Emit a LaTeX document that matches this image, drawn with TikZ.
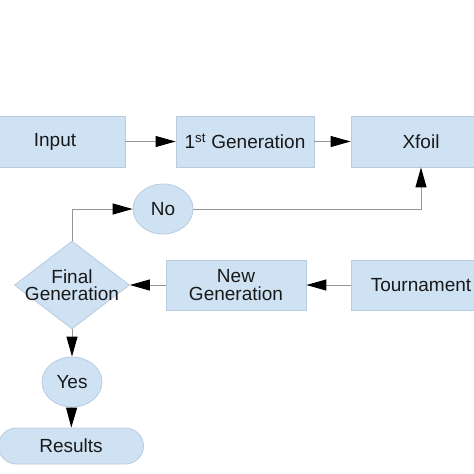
\documentclass[tikz,border=0pt]{standalone}
\usepackage{fontspec}
\setmainfont{Liberation Sans}
\usetikzlibrary{shapes.geometric,shapes.misc,arrows.meta}
\definecolor{boxfill}{RGB}{207,226,243}
\definecolor{boxline}{RGB}{185,203,222}
\definecolor{wire}{RGB}{150,150,150}
\definecolor{ink}{RGB}{25,25,25}
\tikzset{
  txt/.style={font=\fontsize{19}{17.5}\selectfont, text=ink, align=center},
  block/.style={txt, draw=boxline, fill=boxfill, line width=0.8pt,
    minimum width=140pt, minimum height=51pt, inner sep=0pt},
  bubble/.style={txt, ellipse, draw=boxline, fill=boxfill, line width=0.8pt,
    minimum width=60pt, minimum height=50pt, inner sep=0pt},
  decide/.style={diamond, draw=boxline, fill=boxfill, line width=0.8pt,
    minimum width=115pt, minimum height=88pt, aspect=1.3, inner sep=0pt},
  capsule/.style={txt, rounded rectangle, draw=boxline, fill=boxfill, line width=0.8pt,
    minimum width=145pt, minimum height=36pt, inner sep=0pt},
  flow/.style={draw=wire, line width=1pt, -{Triangle[length=20pt,width=11pt,color=black]}},
}
\begin{document}
\begin{tikzpicture}[x=1pt,y=-1pt]
  \useasboundingbox (0,0) rectangle (474,474);
  \clip (0,0) rectangle (474,474);

  % Top row
  \node [block] (input) at (55,141.5) {Input};
  \node [block, minimum width=138pt] (first) at (245,141.5) {1\textsuperscript{st} Generation};
  \node [block] (xfoil) at (421,141.5) {Xfoil};

  % No branch
  \node [bubble] (no) at (163,209) {No};

  % Middle row
  \node [decide, label={[txt]center:{Final\\Generation}}] (final) at (72,285) {};
  \node [block, minimum height=50pt] (newgen) at (236,285) {New\\Generation};
  \node [block, minimum height=50pt] (tourn) at (421,285) {Tournament};

  % Bottom
  \node [bubble] (yes) at (72,382) {Yes};
  \node [capsule] (results) at (71,446) {Results};

  % Connectors
  \draw [flow] (input) -- (first);
  \draw [flow] (first) -- (xfoil);
  \draw [flow] (no.east) -| (xfoil.south);
  \draw [flow] (final.north) |- (no.west);
  \draw [flow] (tourn) -- (newgen);
  \draw [flow] (newgen) -- (final);
  \draw [flow] (final) -- (yes);
  \draw [flow] (yes) -- (results);
\end{tikzpicture}
\end{document}
